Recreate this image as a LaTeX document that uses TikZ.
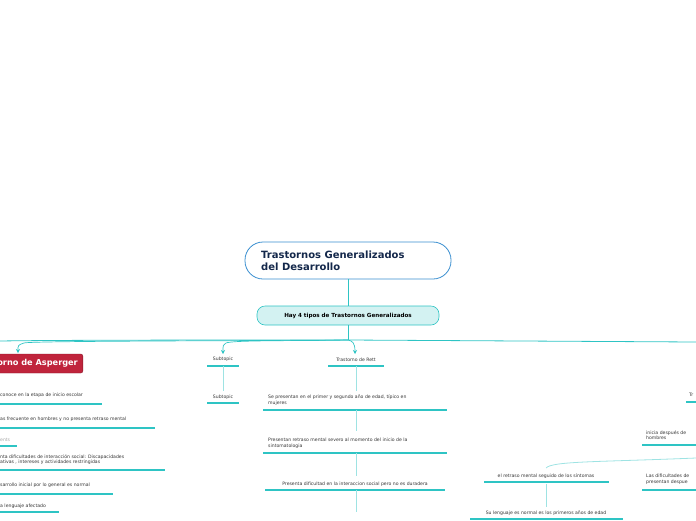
\documentclass[tikz,border=0pt]{standalone}
\usepackage{fontspec}
\setmainfont{DejaVu Sans}
\usetikzlibrary{arrows.meta}
\definecolor{teal1}{HTML}{2EC4C4}
\definecolor{teall}{HTML}{9EE3E3}
\definecolor{navy}{HTML}{14284B}
\definecolor{blueb}{HTML}{3A8FD0}
\definecolor{redb}{HTML}{C0243C}
\definecolor{txt}{HTML}{333333}
\tikzset{
 lbl/.style={font=\fontsize{4.6}{5.6}\selectfont, text=txt, inner sep=0pt, align=left},
 ul/.style={teal1, line width=1.1pt},
 con/.style={teall, line width=0.8pt},
 arr/.style={teal1, line width=0.7pt, -{Stealth[length=4pt,width=4pt]}}
}
\begin{document}
\begin{tikzpicture}[x=1pt,y=-1pt]
\useasboundingbox (0,0) rectangle (696,520);
\clip (0,0) rectangle (696,520);
% main
\node (main) [draw=blueb, line width=0.8pt, fill=white, rounded corners=18pt, minimum width=206pt, minimum height=37pt] at (348,260.5) {};
\node (maint) [anchor=west, inner sep=0pt, align=left, text=navy, font=\fontsize{10}{12.5}\selectfont\bfseries] at (261,261) {Trastornos Generalizados\\del Desarrollo};
\node (sub) [draw=teal1, line width=0.6pt, fill=teall!45, rounded corners=8pt, minimum width=182pt, minimum height=19pt, font=\fontsize{5.6}{6.5}\selectfont\bfseries, text=black] at (348,315.5) {Hay 4 tipos de Trastornos Generalizados};
\draw[teal1, line width=0.8pt] (main.south) -- (sub.north);
\coordinate (hub) at (348,340);
\draw[teal1, line width=0.8pt] (sub.south) -- (hub);
% branches
\coordinate (aspA) at (18,353);
\coordinate (subA) at (223,354);
\coordinate (rettA) at (355,354);
\coordinate (leftE) at (0,341);
\coordinate (rightE) at (696,342);
\draw[teal1, line width=0.8pt] (hub) .. controls (250,340) and (60,340) .. (leftE);
\draw[teal1, line width=0.8pt] (hub) -- (rightE);
\draw[arr] (hub) .. controls (200,341) and (30,341) .. (24,343) .. controls (18,345) .. (aspA);
\draw[arr] (hub) .. controls (300,341) and (232,340) .. (226,343) .. controls (223,345) .. (subA);
\draw[arr] (hub) .. controls (352,341) and (355,342) .. (rettA);
% Asperger
\node (asp) [fill=redb, draw=redb!70!black, rounded corners=2pt, anchor=east, minimum height=19pt, text=white, font=\fontsize{8.2}{9}\selectfont\bfseries, inner xsep=5pt] at (83,363.5) {Trastorno de Asperger};
\node (a1) [lbl, anchor=west] at (0,395) {conoce en la etapa de inicio escolar};
\draw[ul] (0,404) -- (102,404);
\node (a2) [lbl, anchor=west] at (0,419) {as frecuente en hombres y no presenta retraso mental};
\draw[ul] (0,428) -- (155,428);
\node (a3) [lbl, anchor=west, text=gray!70] at (0,440) {ents};
\draw[ul] (0,446) -- (17,446);
\node (a4) [lbl, anchor=west] at (0,459.5) {nta dificultades de interacción social: Discapacidades\\ativas , intereses y actividades restringidas};
\draw[ul] (0,470) -- (165,470);
\node (a5) [lbl, anchor=west] at (0,485) {sarrollo inicial por lo general es normal};
\draw[ul] (0,494) -- (113,494);
\node (a6) [lbl, anchor=west] at (0,506) {a lenguaje afectado};
\draw[ul] (0,512) -- (59,512);
% Subtopic
\node (s1) [lbl] at (223,359.5) {Subtopic};
\draw[ul] (207,366) -- (239,366);
\node (s2) [lbl] at (223,397.5) {Subtopic};
\draw[ul] (207,403) -- (239,403);
\draw[con] (223,366) -- (223,391);
% Rett
\node (r0) [lbl] at (356,359.5) {Trastorno de Rett};
\draw[ul] (328,366) -- (384,366);
\node (r1) [lbl, anchor=west] at (268,400) {Se presentan en el primer y segundo año de edad, típico en\\mujeres};
\draw[ul] (263,410) -- (447,410);
\node (r2) [lbl, anchor=west] at (268,443) {Presentan retraso mental severo al momento del inicio de la\\sintomatologia};
\draw[ul] (263,453) -- (447,453);
\node (r3) [lbl] at (355,484.5) {Presenta dificultad en la interaccion social pero no es duradera};
\draw[ul] (265,490) -- (445,490);
\draw[con] (356,366) -- (356,391);
\draw[con] (356,410) -- (356,431);
\draw[con] (356,453) -- (356,476);
\draw[con] (356,490) -- (356,512);
% right
\node (t1) [lbl, anchor=west] at (689,395) {Tr};
\draw[ul] (686,402) -- (696,402);
\node (t2) [lbl, anchor=west] at (646,435) {inicia después de\\hombres};
\draw[ul] (642,445) -- (696,445);
\node (t3) [lbl, anchor=west] at (646,479.5) {Las dificultades de\\presentan despue};
\draw[ul] (642,490) -- (696,490);
\node (e1) [lbl] at (546,476.5) {el retraso mental seguido de los síntomas};
\draw[ul] (484,482) -- (609,482);
\draw[con] (696,458) .. controls (600,462) and (552,461) .. (546,468);
\node (e2) [lbl] at (546,513.5) {Su lenguaje es normal es los primeros años de edad};
\draw[ul] (470,519) -- (623,519);
\draw[con] (546,484) -- (546,507);
\end{tikzpicture}
\end{document}
